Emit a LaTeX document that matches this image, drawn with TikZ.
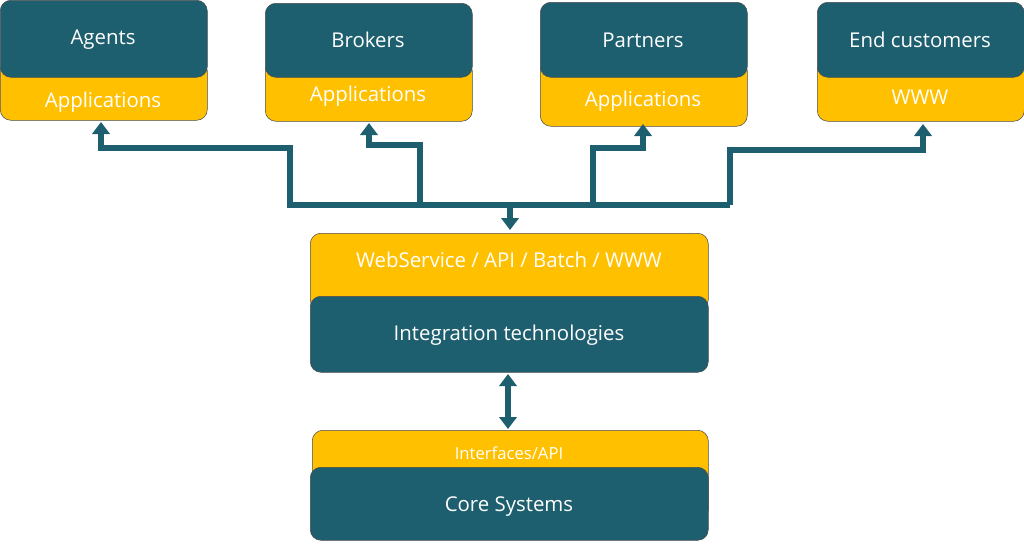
\documentclass[tikz,border=0pt]{standalone}
\usepackage{fontspec}
\setmainfont{Open Sans}
\usetikzlibrary{arrows.meta,positioning}
\definecolor{teal}{HTML}{1D5F6E}
\definecolor{gold}{HTML}{FFC000}
\begin{document}
\begin{tikzpicture}[x=0.75pt,y=-0.75pt]
  \tikzset{
    top/.style={draw=black!70,fill=teal,rounded corners=8pt,anchor=north west,inner sep=0pt},
    sub/.style={draw=black!70,fill=gold,rounded corners=8pt,anchor=north west,inner sep=0pt},
    lbl/.style={text=white,font=\fontsize{15.3}{17}\selectfont},
    link/.style={draw=teal,line width=4.5pt},
    tip/.style={-{Triangle[length=9pt,width=13pt]}}
  }
  \useasboundingbox (0,0) rectangle (1024,544);
  %Draw the top groups
  \foreach \nm/\x/\y/\h/\lab/\sublab/\ty in {agents/0/0/120/Agents/Applications/102,
      brokers/265/3/121/Brokers/Applications/96,
      partners/540/2/126/Partners/Applications/101,
      endcust/817/2/121/End customers/WWW/97}{
    \node[sub,minimum width=207*0.75pt,minimum height={(\h-60)*0.75pt}] (\nm s) at (\x,60) {};
    \node[lbl] at (\x+103,\ty) {\sublab};
    \node[top,minimum width=207*0.75pt,minimum height={(77-\y)*0.75pt}] (\nm) at (\x,\y) {};
    \node[lbl] at (\x+103,40) {\lab};
  }
  %Integration layer
  \node[sub,minimum width=398*0.75pt,minimum height=77*0.75pt] (web) at (310,233) {};
  \node[lbl] at (509,260) {WebService / API / Batch / WWW};
  \node[top,minimum width=398*0.75pt,minimum height=76*0.75pt] (integ) at (310,296) {};
  \node[lbl] at (509,335) {Integration technologies};
  %Core layer
  \node[sub,minimum width=396*0.75pt,minimum height=90*0.75pt] (iface) at (312,430) {};
  \node[lbl,font=\fontsize{12.5}{14}\selectfont] at (509,453) {Interfaces/API};
  \node[top,minimum width=398*0.75pt,minimum height=73*0.75pt] (core) at (310,467) {};
  \node[lbl] at (509,507) {Core Systems};
  %Connectors
  \coordinate (bus) at (510,203);
  \draw[link,tip] (730,205) -- (290,205) -- (290,148) -- (101,148) -- (101,122);
  \draw[link,tip] (420,205) -- (420,145) -- (369,145) -- (369,123);
  \draw[link,tip] (593,205) -- (593,148) -- (643,148) -- (643,124);
  \draw[link,tip] (730,205) -- (730,150) -- (923,150) -- (923,124);
  \draw[link,tip] (bus) -- (510,230);
  \draw[link,{Triangle[length=9pt,width=13pt]}-{Triangle[length=9pt,width=13pt]}] (508,374) -- (508,429);
\end{tikzpicture}
\end{document}
